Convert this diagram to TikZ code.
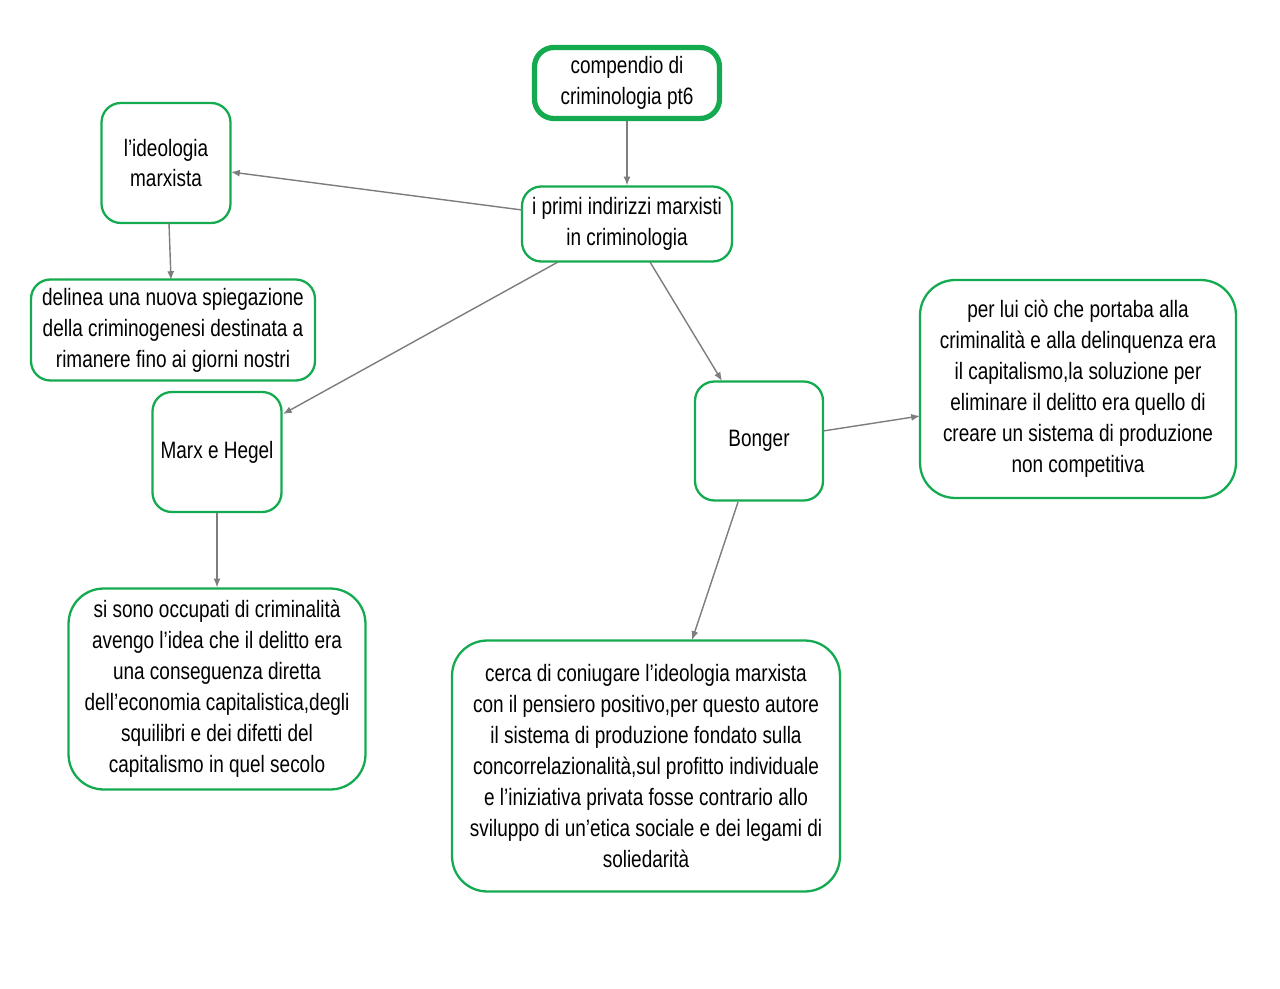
\documentclass[tikz,border=0pt]{standalone}
\usepackage{fontspec}
\usetikzlibrary{arrows.meta}
\setmainfont[FakeStretch=0.8]{Liberation Sans}
\definecolor{gr}{RGB}{20,170,80}
\definecolor{ar}{RGB}{125,125,125}
\begin{document}
\begin{tikzpicture}[x=0.02cm,y=-0.02cm,
 box/.style={draw=gr,line width=1.3pt,rounded corners=11pt,fill=white,align=center,inner sep=1pt,
   font=\fontsize{13.5}{17.6}\selectfont},
 arr/.style={draw=ar,line width=0.8pt,-{Latex[length=5pt,width=4pt]}}]
\useasboundingbox (0,0) rectangle (1280,989);
\node[box,line width=3pt,minimum width=3.7cm,minimum height=1.42cm] (t) at (627,83) {compendio di\\criminologia pt6};
\node[box,minimum width=4.2cm,minimum height=1.5cm] (p) at (627,224) {i primi indirizzi marxisti\\in criminologia};
\node[box,minimum width=2.58cm,minimum height=2.4cm] (i) at (166,163) {l'ideologia\\marxista};
\node[box,minimum width=5.68cm,minimum height=2.02cm] (d) at (173,330) {delinea una nuova spiegazione\\della criminogenesi destinata a\\rimanere fino ai giorni nostri};
\node[box,minimum width=2.58cm,minimum height=2.4cm] (m) at (217,452) {Marx e Hegel};
\node[box,minimum width=2.56cm,minimum height=2.38cm] (b) at (759,441) {Bonger};
\node[box,minimum width=6.32cm,minimum height=4.36cm,rounded corners=20pt] (l) at (1078,389) {per lui ciò che portaba alla\\criminalità e alla delinquenza era\\il capitalismo,la soluzione per\\eliminare il delitto era quello di\\creare un sistema di produzione\\non competitiva};
\node[box,minimum width=5.94cm,minimum height=4.02cm,rounded corners=20pt] (s) at (217,689) {si sono occupati di criminalità\\avengo l'idea che il delitto era\\una conseguenza diretta\\dell'economia capitalistica,degli\\squilibri e dei difetti del\\capitalismo in quel secolo};
\node[box,minimum width=7.76cm,minimum height=5.02cm,rounded corners=20pt] (c) at (646,766) {cerca di coniugare l'ideologia marxista\\con il pensiero positivo,per questo autore\\il sistema di produzione fondato sulla\\concorrelazionalità,sul profitto individuale\\e l'iniziativa privata fosse contrario allo\\sviluppo di un'etica sociale e dei legami di\\soliedarità};
\coordinate (pw) at (522,210);
\coordinate (ie) at (231,172);
\coordinate (is) at (169,223);
\coordinate (dn) at (171,280);
\coordinate (ps1) at (558,262);
\coordinate (mne) at (283,414);
\coordinate (ps2) at (650,262);
\coordinate (bn) at (722,381);
\coordinate (be) at (823,431);
\coordinate (lw) at (920,416);
\coordinate (bs) at (738,502);
\coordinate (cn) at (692,640);
\draw[arr] (t) -- (p);
\draw[arr] (pw) -- (ie);
\draw[arr] (is) -- (dn);
\draw[arr] (ps1) -- (mne);
\draw[arr] (ps2) -- (bn);
\draw[arr] (m.south) -- (s.north);
\draw[arr] (be) -- (lw);
\draw[arr] (bs) -- (cn);
\end{tikzpicture}
\end{document}
